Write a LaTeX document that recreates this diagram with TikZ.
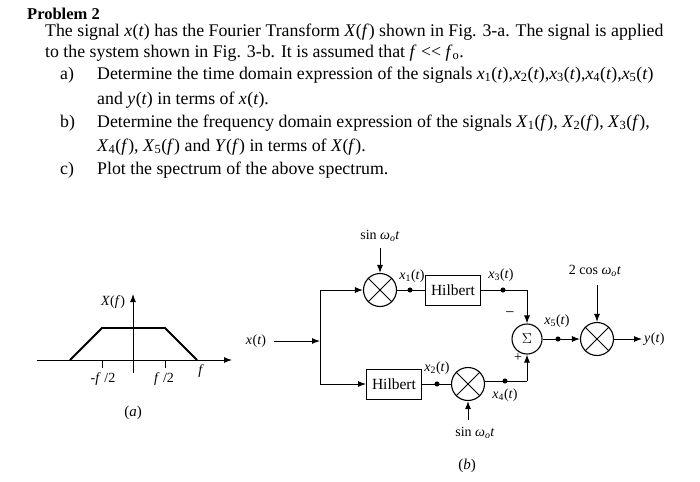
\documentclass[tikz,border=0pt]{standalone}
\usepackage{fontspec}
\setmainfont{Liberation Serif}
\usetikzlibrary{arrows.meta}
\newcommand{\I}[1]{\textit{#1}}
\newcommand{\sig}[2]{\I{#1}\textsubscript{#2}(\I{t})}
\begin{document}
\begin{tikzpicture}[x=1pt,y=-1pt,
  txt/.style={anchor=west,inner sep=0pt,font=\fontsize{17.8}{19}\selectfont},
  lab/.style={inner sep=1pt,font=\fontsize{14}{15}\selectfont},
  mult/.style={draw,circle,minimum size=33pt,inner sep=0pt,line width=1.1pt},
  blk/.style={draw,line width=1pt,minimum width=55pt,minimum height=30pt,inner sep=0pt,font=\fontsize{15.5}{16}\selectfont},
  wire/.style={line width=1pt},
  arr/.style={wire,-{Latex[length=8pt,width=6pt]}},
  dot/.style={circle,fill,inner sep=1.8pt}]
\fill[white] (0,0) rectangle (700,481);
\useasboundingbox (0,0) rectangle (700,481);
% text
\node[txt,font=\fontsize{16.5}{18}\selectfont\bfseries] (p) at (27,14) {Problem 2};
\node[txt] (l1) at (45,32) {The signal \sig{x}{} has the Fourier Transform \I{X}(\I{f}) shown in Fig. 3-a. The signal is applied};
\node[txt] (l2) at (45,53) {to the system shown in Fig. 3-b. It is assumed that \I{f} {<}{<} \I{f}\textsubscript{o}.};
\node[txt] (la) at (60,75) {a)};
\node[txt] (l3) at (97,75) {Determine the time domain expression of the signals \sig{x}{1},\sig{x}{2},\sig{x}{3},\sig{x}{4},\sig{x}{5}};
\node[txt] (l4) at (97,100) {and \sig{y}{} in terms of \sig{x}{}.};
\node[txt] (lb) at (60,123) {b)};
\node[txt] (l5) at (97,123) {Determine the frequency domain expression of the signals \I{X}\textsubscript{1}(\I{f}), \I{X}\textsubscript{2}(\I{f}), \I{X}\textsubscript{3}(\I{f}),};
\node[txt] (l6) at (97,147) {\I{X}\textsubscript{4}(\I{f}), \I{X}\textsubscript{5}(\I{f}) and \I{Y}(\I{f}) in terms of \I{X}(\I{f}).};
\node[txt] (lc) at (60,170) {c)};
\node[txt] (l7) at (97,170) {Plot the spectrum of the above spectrum.};
% (a)
\coordinate (ha) at (37,360); \coordinate (hb) at (232,360);
\coordinate (va) at (133,373); \coordinate (vb) at (133,294);
\draw[arr] (ha) -- (hb);
\draw[arr] (va) -- (vb);
\coordinate (t1) at (70,360); \coordinate (t2) at (102,328);
\coordinate (t3) at (165,328); \coordinate (t4) at (197,360);
\draw[line width=1.8pt] (t1) -- (t2) -- (t3) -- (t4);
\coordinate (k1) at (102,360); \coordinate (k1b) at (102,368);
\coordinate (k2) at (165,360); \coordinate (k2b) at (165,368);
\draw[wire] (k1) -- (k1b) (k2) -- (k2b);
\node[lab] (Xf) at (113,302) {\I{X}(\I{f})};
\node[lab] (m2) at (103,379) {-\I{f} /2};
\node[lab] (p2) at (164,379) {\I{f} /2};
\node[lab] (ff) at (201,371) {\I{f}};
\node[lab,font=\fontsize{15}{16}\selectfont] (ca) at (133,413) {(\I{a})};
% (b)
\node[mult] (m1) at (380,290) {};
\node[mult] (mm2) at (468,384) {};
\node[mult] (m3) at (597,339) {};
\foreach \m in {m1,mm2,m3}{\draw[wire] (\m.north west) -- (\m.south east) (\m.north east) -- (\m.south west);}
\node[draw,circle,minimum size=30pt,inner sep=0pt,line width=1.1pt,font=\Large] (s) at (527,339) {$\Sigma$};
\node[blk] (h1) at (453,290) {Hilbert};
\node[blk] (h2) at (394,384) {Hilbert};
\node[lab] (xt) at (256,341) {\sig{x}{}};
\coordinate (xs) at (274,341); \coordinate (br) at (320,341);
\coordinate (bt) at (320,290); \coordinate (bb) at (320,384);
\draw[arr] (xs) -- (br);
\draw[wire] (bt) -- (bb);
\draw[arr] (bt) -- (m1);
\draw[arr] (bb) -- (h2);
\node[lab] (sin1) at (380,236) {sin \I{ω\textsubscript{o}t}};
\coordinate (sa) at (380,248);
\draw[arr] (sa) -- (m1);
\draw[wire] (m1) -- (h1);
\node[dot] (d1) at (410,290) {};
\node[lab] (x1) at (412,276) {\sig{x}{1}};
\coordinate (c3) at (527,290);
\draw[wire] (h1) -- (c3);
\draw[arr] (c3) -- (s);
\node[dot] (d3) at (503,290) {};
\node[lab] (x3) at (501,275) {\sig{x}{3}};
\draw[wire] (h2) -- (mm2);
\node[dot] (d2) at (437,384) {};
\node[lab] (x2) at (437,368) {\sig{x}{2}};
\node[lab] (sin2) at (475,433) {sin \I{ω\textsubscript{o}t}};
\coordinate (sb) at (468,420);
\draw[arr] (sb) -- (mm2);
\coordinate (c4a) at (484,381);
\coordinate (c4) at (527,381);
\draw[wire] (c4a) -- (c4);
\draw[arr] (c4) -- (s);
\node[dot] (d4) at (505,381) {};
\node[lab] (x4) at (505,395) {\sig{x}{4}};
\node[lab,font=\fontsize{16}{16}\selectfont] (mi) at (510,315) {−};
\node[lab] (pl) at (518,358) {+};
\draw[arr] (s) -- (m3);
\node[dot] (d5) at (558,339) {};
\node[lab] (x5) at (557,321) {\sig{x}{5}};
\node[lab] (cos) at (595,271) {2 cos \I{ω\textsubscript{o}t}};
\coordinate (ca3) at (597,285);
\draw[arr] (ca3) -- (m3);
\coordinate (ye) at (642,339);
\draw[arr] (m3) -- (ye);
\node[lab,anchor=west] (y) at (643,339) {\sig{y}{}};
\node[lab,font=\fontsize{15}{16}\selectfont] (cb) at (467,466) {(\I{b})};
\end{tikzpicture}
\end{document}
